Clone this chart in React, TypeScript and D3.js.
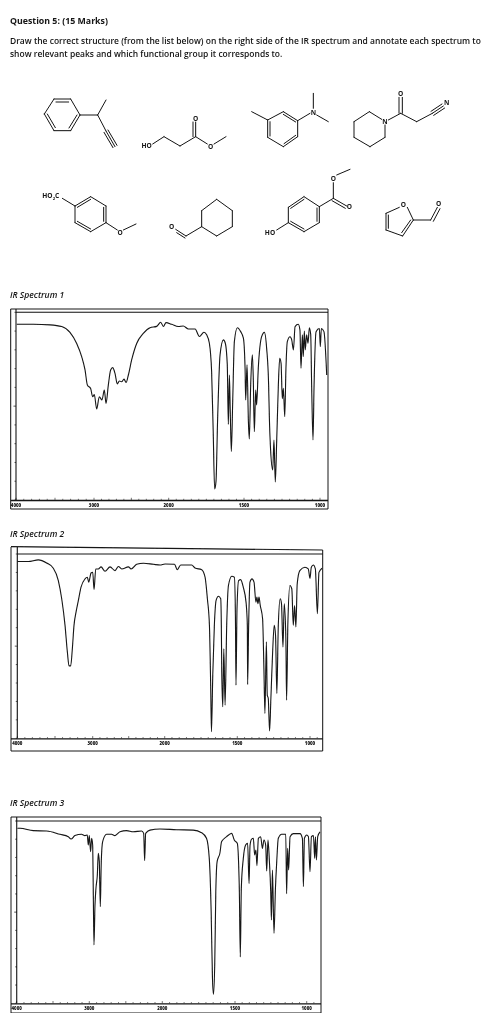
import React from "react";
import * as d3 from "d3";

const questionTitle = "Question 5:  (15 Marks)";
const questionLines = [
  "Draw the correct structure (from the list below) on the right side of the IR spectrum and annotate each spectrum to",
  "show relevant peaks and which functional group it corresponds to.",
];
const spectrumTitles = ["IR Spectrum 1", "IR Spectrum 2", "IR Spectrum 3"];
const wavenumberLabels = [4000, 3000, 2000, 1500, 1000];

const wavenumbers1 = [3991,3778,3564,3414,3308,3222,3158,3115,3085,3043,3017,2996,2964,2929,2893,2862,2839,2808,2777,2750,2719,2688,2661,2630,2598,2571,2540,2496,2429,2340,2250,2161,2107,2071,2036,1980,1936,1903,1869,1825,1796,1766,1748,1730,1715,1704,1695,1686,1675,1659,1637,1624,1611,1604,1597,1591,1584,1575,1564,1544,1522,1504,1493,1489,1480,1471,1465,1456,1445,1439,1432,1423,1417,1406,1384,1366,1351,1338,1333,1325,1311,1303,1294,1285,1274,1265,1256,1248,1241,1232,1224,1215,1197,1186,1175,1164,1143,1132,1125,1116,1110,1103,1097,1088,1079,1070,1061,1055,1046,1039,1026,1004,998,991,974,956];
const transmittance1 = [93.6,93.6,93.3,92.4,89.3,83.4,76.4,69.3,61.3,59.4,55,56.2,48.5,55,53.3,58.6,51.5,61.3,69.3,70.5,67.5,61.8,63.4,63,64.4,62.6,66.6,74.6,83.4,88.8,91.8,92.5,94.7,92.4,94.5,93.6,92.4,92.7,91.1,91.1,87.1,89.4,88,83.5,68.4,34.6,5.9,9.8,43.5,77.3,85.3,83.5,72,40.3,66.6,46.2,25.8,52.4,84.4,91.8,89.7,86.2,70.2,53.3,72,41.7,32.5,61.3,77.3,64.8,36.4,58.6,50.6,70.2,87,89.3,80.8,61.3,43.5,26.6,16,32,9.6,31,61.3,75.5,72.8,54,59.5,44.4,70.2,84.4,87,85.3,80,92.4,93.6,90.6,70.2,88,76.4,90,80,88,83.5,91.8,88,61.3,32,61.3,89.7,91.4,81.7,91.4,89.7,66.6];

const wavenumbers2 = [4000,3854,3721,3611,3522,3456,3411,3367,3336,3314,3292,3270,3248,3221,3190,3155,3102,3071,3053,3022,3000,2981,2958,2921,2884,2829,2759,2690,2643,2597,2504,2467,2389,2296,2157,2064,1998,1933,1913,1890,1814,1791,1745,1722,1706,1692,1683,1678,1669,1658,1646,1630,1614,1610,1607,1600,1593,1584,1573,1561,1538,1520,1513,1509,1502,1491,1477,1459,1440,1431,1429,1422,1413,1399,1385,1372,1365,1358,1351,1342,1326,1317,1310,1300,1294,1287,1278,1269,1257,1246,1237,1228,1218,1205,1196,1186,1177,1166,1161,1152,1138,1125,1115,1106,1097,1088,1070,1035,1012,1000,991,977,963,949,938,917];
const transmittance2 = [95.9,95.9,96.8,95.1,92.3,85.6,75.7,61.3,46.8,39.3,39.3,48.6,61.3,68.5,74.8,82,86.5,87.4,84.7,89.7,90.1,80.7,91.9,91.9,93,90.6,93,91,93.2,91.9,93,91.9,94.4,95,94.4,94,94.6,94.4,91.5,94,94,92.4,91.5,87.4,75.7,61.3,27,3.6,34.2,61.3,74.8,77.1,75.7,61.3,36,17.1,48.6,18,61.3,82.9,87.9,87.4,66.7,28.8,70.3,85.6,86.1,82,73.9,61.3,29.2,61.3,84.7,86.5,84.7,73.9,76.6,73,76.6,72,64.9,37.8,13.5,52.3,23.4,21.6,4,21.6,46.8,61.3,55.9,24.3,61.3,75.7,73,49.5,73,54,20.7,63,82.9,81,61.3,72,60.4,83.8,91,92.8,91.9,86.8,92.8,94,91.9,67.6,90,92.3];

const wavenumbers3 = [3991,3954,3771,3587,3404,3289,3252,3197,3106,3060,3028,3014,3000,2982,2968,2954,2945,2936,2922,2909,2890,2877,2863,2849,2836,2817,2763,2694,2649,2580,2489,2397,2283,2255,2242,2228,2169,2032,1901,1787,1730,1696,1677,1664,1655,1648,1639,1632,1623,1604,1592,1558,1523,1505,1484,1470,1463,1456,1442,1426,1412,1402,1395,1384,1372,1363,1354,1347,1337,1321,1309,1298,1286,1279,1270,1260,1251,1246,1239,1228,1218,1209,1198,1174,1146,1140,1133,1126,1116,1093,1047,1030,1023,1016,1000,988,977,967,953,944,939,932,923,907];
const transmittance3 = [96,96,94.7,94.5,92.7,91.4,90.1,92,92.7,92,92.3,86.8,92,83.2,90.5,86.8,59.4,32,53.9,63,70.4,82.3,77.7,53,77.7,88.7,92.7,92.7,92,94.1,94.7,94.1,94.5,93.2,78.2,93.2,95,95.6,95.2,95,93.6,90.5,79.5,50.3,13.7,4.9,22.9,61.2,77.7,82.3,88.7,91.4,93.2,89.6,87.8,63,25.4,63,79.5,86.8,87.8,65.8,86.8,90.1,90.5,81.4,84.1,75.5,90.5,91.4,85,89.6,86.8,72.6,89.6,77.7,61.2,45.7,73.1,38.4,63,77.7,90.5,92.7,92.7,60.1,85,73.1,91.4,93.1,93.1,90.5,64,90.5,92.3,91.4,72.2,91.4,92,79.5,91.4,78.6,91.4,94.1];

type Seg = number[];
// structure drawings: bonds and atom labels, in a 3x sketch space
const singleBonds: Seg[] = [
  // phenyl alkyne
  [133,342,162,297],[162,297,212,297],[212,297,240,345],[240,345,212,392],[212,392,162,392],[162,392,133,342],
  [240,345,293,345],[293,345,318,300],[293,345,318,393],[318,393,345,440],[312,397,339,443],[324,390,351,436],
  // hydroxy ester
  [458,432,492,410],[492,410,540,438],[540,438,587,410],[587,410,622,432],[642,432,678,410],[587,410,587,366],
  // dimethyl toluidine
  [803,360,850,335],[850,335,893,362],[893,362,893,410],[893,410,850,440],[850,440,803,412],[803,412,803,360],
  [803,360,755,335],[893,362,930,340],[940,325,940,280],[950,345,985,365],
  // cyano amide
  [1062,365,1108,335],[1108,335,1145,358],[1155,375,1155,412],[1155,412,1110,440],[1110,440,1062,412],[1062,412,1062,365],
  [1165,360,1202,340],[1202,340,1250,365],[1250,365,1297,340],[1297,340,1330,318],[1293,334,1326,312],[1301,346,1334,324],
  // anisic acid
  [187,595,225,618],[225,618,272,590],[272,590,318,618],[318,618,318,668],[318,668,272,695],[272,695,225,668],[225,668,225,618],
  [318,668,352,690],[370,690,408,672],
  // cyclohexane carbaldehyde
  [605,632,650,598],[650,598,697,632],[697,632,697,680],[697,680,650,708],[650,708,605,680],[605,680,605,632],[605,680,558,708],[558,708,527,688],
  // methyl hydroxybenzoate
  [865,622,912,590],[912,590,958,620],[958,620,958,668],[958,668,912,695],[912,695,865,668],[865,668,865,622],
  [958,620,1000,595],[1000,595,1040,618],[1000,595,1000,548],[1010,525,1050,508],[830,690,865,668],
  // furfural
  [1158,640,1198,622],[1222,622,1240,660],[1240,660,1208,708],[1208,708,1158,690],[1158,690,1158,640],[1240,660,1292,660],[1292,660,1312,622],
];
const doubleBondLines: Seg[] = [
  [168,306,206,306],[231,345,207,384],[142,342,166,383],
  [579,410,579,366],
  [850,343,887,366],[887,406,852,431],[810,408,810,365],
  [1197,340,1197,292],[1207,340,1207,292],
  [232,622,272,598],[311,622,311,664],[272,687,232,664],
  [530,698,555,714],
  [872,625,912,598],[951,624,951,664],[912,687,872,664],
  [996,602,1036,625],
  [1165,645,1165,685],[1232,660,1205,698],
  [1300,664,1320,626],
];
const atomLabels: [string, number, number][] = [
  ["HO",440,438],["O",587,355],["O",632,440],["N",940,337],["N",1155,365],["O",1202,282],["N",1340,308],
  ["O",360,697],["O",515,680],["HO",810,697],["O",1048,620],["O",1000,535],["O",1210,615],["O",1316,610],
];

const sketch = d3.scaleLinear().domain([0, 3]).range([0, 1]);

interface Frame { titleY: number; outer: number[]; left: number; top: number; bottom: number; stops: number[]; upper: number[]; end: number; }
const frames: Frame[] = [
  { titleY: 295, outer: [10.7, 309, 328, 509], left: 16, top: 312.3, bottom: 500, stops: [16, 94, 168.7, 244, 320, 326.7], upper: [309, 309], end: 956 },
  { titleY: 534, outer: [11, 547, 322.7, 751], left: 17.3, top: 554, bottom: 738.3, stops: [17.3, 92.7, 164.7, 237.3, 310, 322], upper: [546.7, 550], end: 917 },
  { titleY: 803, outer: [11, 817, 321, 1013], left: 16.7, top: 821, bottom: 1003.3, stops: [16.7, 89.3, 162.3, 235, 306.7, 320], upper: [817, 817], end: 907 },
];
const seriesX = [wavenumbers1, wavenumbers2, wavenumbers3];
const seriesT = [transmittance1, transmittance2, transmittance3];
const ink = "#141414";
const font = "'Open Sans', sans-serif";

function Spectrum({ i }: { i: number }) {
  const f = frames[i];
  const x = d3.scaleLinear().domain([4000, 3000, 2000, 1500, 1000, f.end]).range(f.stops);
  const y = d3.scaleLinear().domain([0, 100]).range([f.bottom, f.top]);
  const path = d3.line<number>().x((w) => x(w)).y((_, k) => y(seriesT[i][k])).curve(d3.curveMonotoneX)(seriesX[i])!;
  const minor = [...d3.range(4000, 2000, -100), ...d3.range(2000, f.end, -50)];
  const [ox0, oy0, ox1, oy1] = f.outer;
  return (
    <g>
      <text x={10} y={f.titleY + 3} fontFamily={font} fontStyle="italic" fontWeight={600} fontSize={8.6} fill={ink}>{spectrumTitles[i]}</text>
      <g fill="none" stroke={ink}>
        <path d={`M${ox0},${f.upper[0]}L${ox1},${f.upper[1]}`} strokeWidth={1.2} />
        <path d={`M${ox0},${oy0}V${oy1}H${ox1}V${f.upper[1]}`} strokeWidth={1} />
        <path d={`M${f.left},${oy0}V${f.bottom}`} strokeWidth={1.1} />
        <path d={`M${f.left},${f.top}H${ox1}`} strokeWidth={1.1} />
        <path d={`M${ox0},${f.bottom + 0.5}H${ox1}`} strokeWidth={1.3} />
        {d3.range(0, 101, 10).map((t) => (
          <path key={t} d={`M${f.left},${y(t)}h${t === 50 ? -2.5 : -1.5}`} strokeWidth={0.7} />
        ))}
        {minor.map((w) => (
          <path key={w} d={`M${x(w)},${f.bottom}v${w % 500 === 0 ? -2.2 : -1.2}`} strokeWidth={0.6} />
        ))}
        <path d={path} strokeWidth={1.1} strokeLinejoin="round" />
      </g>
      {wavenumberLabels.map((w) => (
        <text key={w} x={x(w)} y={f.bottom + 7} textAnchor="middle" fontFamily={font} fontWeight={800} fontSize={4.4} fill={ink}>{w}</text>
      ))}
    </g>
  );
}

export default function App() {
  return (
    <svg width={488} height={1024} viewBox="0 0 488 1024" style={{ position: "absolute", left: 0, top: 0, background: "#fff" }}>
      <defs>
        <filter id="soft" x="0" y="0" width="1" height="1"><feGaussianBlur stdDeviation="0.3" /></filter>
      </defs>
      <g filter="url(#soft)">
        <text x={10} y={24} fontFamily={font} fontWeight={700} fontSize={8.8} fill={ink}>{questionTitle}</text>
        {questionLines.map((l, k) => (
          <text key={k} x={10} y={44 + k * 13} fontFamily={font} fontWeight={600} fontSize={8.47} fill={ink}>{l}</text>
        ))}
        <g stroke={ink} strokeWidth={1} fill="none" strokeLinecap="round">
          {[...singleBonds, ...doubleBondLines].map((s, k) => (
            <line key={k} x1={sketch(s[0])} y1={sketch(s[1])} x2={sketch(s[2])} y2={sketch(s[3])} />
          ))}
        </g>
        {atomLabels.map(([t, ax, ay], k) => (
          <text key={k} x={sketch(ax)} y={sketch(ay) + 2.4} textAnchor="middle" fontFamily={font} fontWeight={700} fontSize={6.6} fill={ink}>{t}</text>
        ))}
        <text x={sketch(127)} y={sketch(588) + 2.4} fontFamily={font} fontWeight={700} fontSize={6.6} fill={ink}>
          HO<tspan fontSize={4.2} dy={1.2}>2</tspan><tspan dy={-1.2}>C</tspan>
        </text>
        {frames.map((_, i) => <Spectrum key={i} i={i} />)}
      </g>
    </svg>
  );
}
